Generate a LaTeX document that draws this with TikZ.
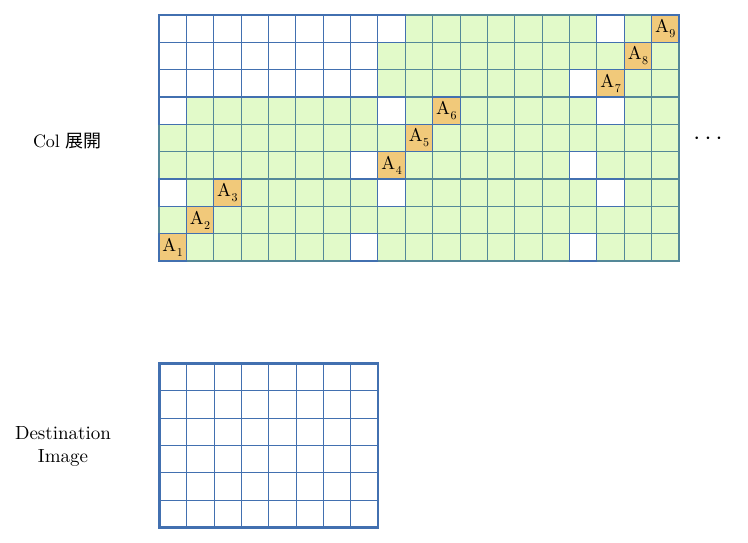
\documentclass[tikz,border=0pt]{standalone}
\usepackage{fontspec}
\setmainfont{lmroman10-regular.otf}[BoldFont=lmroman10-bold.otf]
\newfontfamily\cjk{Noto Sans CJK JP}
\usetikzlibrary{calc}
\definecolor{lgreen}{RGB}{226,250,201}
\definecolor{aorange}{RGB}{241,201,122}
\definecolor{gridblue}{RGB}{66,112,176}
\definecolor{gridteal}{RGB}{84,136,152}
\def\rowsdata{%
{w,w,w,w,w,w,w,w,w,g,g,g,g,g,g,g,w,g,9},%
{w,w,w,w,w,w,w,w,g,g,g,g,g,g,g,g,g,8,g},%
{w,w,w,w,w,w,w,w,g,g,g,g,g,g,g,w,7,g,g},%
{w,g,g,g,g,g,g,g,w,g,6,g,g,g,g,g,w,g,g},%
{g,g,g,g,g,g,g,g,g,5,g,g,g,g,g,g,g,g,g},%
{g,g,g,g,g,g,g,w,4,g,g,g,g,g,g,w,g,g,g},%
{w,g,3,g,g,g,g,g,w,g,g,g,g,g,g,g,w,g,g},%
{g,2,g,g,g,g,g,g,g,g,g,g,g,g,g,g,g,g,g},%
{1,g,g,g,g,g,g,w,g,g,g,g,g,g,g,w,g,g,g}}
\begin{document}
\begin{tikzpicture}[x=1pt,y=-1pt,
  cell/.style={minimum width=27.368pt, minimum height=27.333pt, inner sep=0pt, outer sep=0pt, line width=1.1pt, font=\fontsize{18.5}{20}\selectfont},
  tw/.style={fill=white, draw=gridblue},
  tg/.style={fill=lgreen, draw=gridteal},
  ta/.style={fill=aorange, draw=gridblue},
  t1/.style=ta, t2/.style=ta, t3/.style=ta, t4/.style=ta, t5/.style=ta,
  t6/.style=ta, t7/.style=ta, t8/.style=ta, t9/.style=ta,
  edge/.style={draw=gridblue, line width=1.1pt},
  lbl/.style={font=\fontsize{18}{23}\selectfont, align=center, inner sep=0pt}]
\useasboundingbox (0,0) rectangle (748,542);
% Col expansion matrix
\foreach \row [count=\r from 0] in \rowsdata {
  \foreach \t [count=\c from 0] in \row {
    \node[cell, t\t] (c\r-\c) at ({159+(\c+0.5)*27.368}, {15+(\r+0.5)*27.333})
      {\if g\t\else\if w\t\else A\kern0.5pt\raisebox{-5pt}{\fontsize{12}{12}\selectfont\t}\fi\fi};
  }
}
\foreach \row [count=\r from 0] in \rowsdata {
  \foreach \t [count=\c from 0] in \row {
    \if g\t\else \draw[edge] (c\r-\c.north west) rectangle (c\r-\c.south east);\fi
  }
}
% Destination image
\node[draw=gridblue, line width=2.2pt, minimum width=218.5pt, minimum height=164pt, inner sep=0pt, outer sep=0pt] (dest) at (268.75,445.5) {};
\foreach \i in {1,...,7}
  \draw[edge] ($(dest.north west)!\i/8!(dest.north east)$) -- ($(dest.south west)!\i/8!(dest.south east)$);
\foreach \j in {1,...,5}
  \draw[edge] ($(dest.north west)!\j/6!(dest.south west)$) -- ($(dest.north east)!\j/6!(dest.south east)$);
% labels
\node[lbl] (col) at (67.5,141) {Col {\cjk 展開}};
\node[lbl, font=\fontsize{19}{23}\selectfont] (dst) at (63,446.5) {Destination\\Image};
\node[font=\fontsize{28}{28}\selectfont, inner sep=0pt] (dots) at (708,139) {$\cdots$};
\end{tikzpicture}
\end{document}
